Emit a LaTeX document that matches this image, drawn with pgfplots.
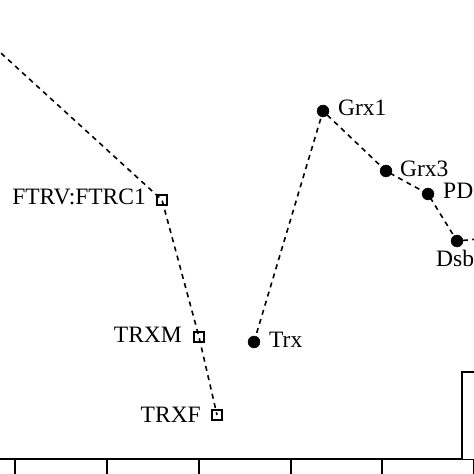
\documentclass[border=0pt]{standalone}
\usepackage{pgfplots}
\pgfplotsset{compat=1.18}
\usepackage{fontspec}
\setmainfont{Liberation Serif}
\tikzset{lab/.style={font=\fontsize{23.5}{23.5}\selectfont, inner sep=0pt}}

\begin{document}
\begin{tikzpicture}
\begin{axis}[
  scale only axis,
  width=474pt, height=459pt,
  xmin=0, xmax=474, ymin=15, ymax=474,
  axis x line*=bottom, axis y line=none,
  axis line style={line width=1.2pt},
  xtick={15,107,199,291,382,474}, xticklabels={},
  ytick=\empty,
  tick align=outside, major tick length=15pt,
  tick style={line width=1.2pt, black},
]
% bar on the right
\addplot[line width=1.2pt, fill=white] coordinates {(462,15) (462,102) (520,102) (520,15)};

% square series
\addplot[black, line width=1.6pt, dash pattern=on 5pt off 4.5pt, no marks]
  coordinates {(-20,440) (162,274) (199,137) (217,59)};
\addplot[black, only marks, mark=square, mark size=5pt, mark options={line width=1.3pt, fill=white, solid}]
  coordinates {(162,274) (199,137) (217,59)};

% circle series
\addplot[black, line width=1.6pt, dash pattern=on 5pt off 4.5pt, no marks]
  coordinates {(254,132) (323,363) (386,303) (428,280) (457,233) (510,238)};
\addplot[black, only marks, mark=*, mark size=6pt]
  coordinates {(254,132) (323,363) (386,303) (428,280) (457,233)};

\node[lab, anchor=base east] at (axis cs:146,269) {FTRV:FTRC1};
\node[lab, anchor=base east] at (axis cs:182,132) {TRXM};
\node[lab, anchor=base east] at (axis cs:201,52) {TRXF};
\node[lab, anchor=base west] at (axis cs:269,126) {Trx};
\node[lab, anchor=base west] at (axis cs:338,358) {Grx1};
\node[lab, anchor=base west] at (axis cs:400,297) {Grx3};
\node[lab, anchor=base west] at (axis cs:443,275) {PD};
\node[lab, anchor=base west] at (axis cs:436,207) {Dsb};
\end{axis}
\pgfresetboundingbox
\path[use as bounding box] (0,-15pt) rectangle (474pt,459pt);
\end{tikzpicture}
\end{document}
